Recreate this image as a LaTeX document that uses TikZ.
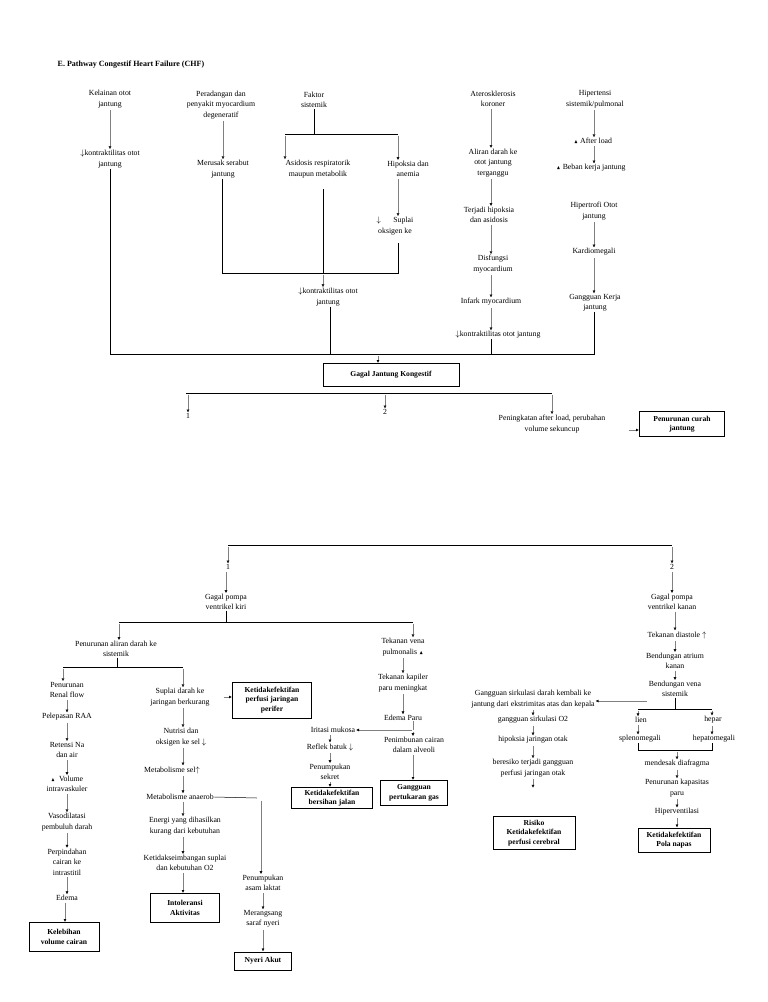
\documentclass[tikz,border=0pt]{standalone}
\usepackage{amssymb}
\usepackage{fontspec}
\setmainfont{Liberation Serif}
\usetikzlibrary{arrows.meta}
\newcommand{\up}{{\tiny$\blacktriangle$}}
\newcommand{\dn}{$\downarrow$}
\newcommand{\upa}{$\uparrow$}
\begin{document}
\begin{tikzpicture}[x=1pt,y=-1pt,
  every node/.style={font=\fontsize{7.8}{10.5}\selectfont, align=center, inner sep=0.5pt},
  bx/.style={draw, line width=0.8pt, font=\fontsize{7.6}{9.5}\selectfont\bfseries, inner sep=0pt},
  ln/.style={line width=0.8pt},
  ar/.style={draw=gray, line width=0.3pt, -{Triangle[length=2.6pt,width=2.6pt,color=black]}, shorten <=1.5pt, shorten >=0.5pt}]
\useasboundingbox[fill=white] (0,0) rectangle (768,1002);
\newcommand{\arr}[2]{\draw[ar] (#1.south) -- (#1.south |- #2.north);}
% ---------- top
\node[anchor=west, font=\fontsize{8}{9}\selectfont\bfseries] (tt) at (57,65) {E. Pathway Congestif Heart Failure (CHF)};
\node (k1) at (110,99) {Kelainan otot\\jantung};
\node (k2) at (110,159) {\dn kontraktilitas otot\\jantung};
\arr{k1}{k2}
\node (p1) at (221,105) {Peradangan dan\\penyakit myocardium\\degeneratif};
\node (p2) at (223,169) {Merusak serabut\\jantung};
\draw[ar] (p1.south -| p2.north) -- (p2.north);
\node (f1) at (314,100) {Faktor\\sistemik};
\node (f2) at (318,169) {Asidosis respiratorik\\maupun metabolik};
\node (f3) at (408,169) {Hipoksia dan\\anemia};
\node (f4) at (395,226) {\dn\hspace{1.6em}Suplai\\oksigen ke};
\node (f5) at (328,297) {\dn kontraktilitas otot\\jantung};
\coordinate (fa) at (285,134); \coordinate (fb) at (398,134);
\draw[ln] (f1.south) -- (f1.south |- fa);
\draw[ln] (fa) -- (fb);
\draw[ar] (fa) -- (fa |- f2.north);
\draw[ar] (fb) -- (fb |- f3.north);
\draw[ar] (f3.south -| fb) -- (fb |- f4.north);
\coordinate (ma) at (222,273); \coordinate (mb) at (398,273);
\draw[ln] (p2.south -| ma) -- (ma) -- (mb) -- (398,243);
\draw[ln] (323,189) -- (323,273);
\draw[ar] (323,273) -- (f5.north -| 323,0);
\node (a1) at (493,99) {Aterosklerosis\\koroner};
\node (a2) at (493,163) {Aliran darah ke\\otot jantung\\terganggu};
\node (a3) at (489,215) {Terjadi hipoksia\\dan asidosis};
\node (a4) at (493,264) {Disfungsi\\myocardium};
\node (a5) at (491,302) {Infark myocardium};
\node (a6) at (498,335) {\dn kontraktilitas otot jantung};
\draw[ar] (a1.south -| 491,0) -- (a2.north -| 491,0);
\draw[ar] (a2.south -| 491,0) -- (a3.north -| 491,0);
\draw[ar] (a3.south -| 491,0) -- (a4.north -| 491,0);
\draw[ar] (a4.south -| 491,0) -- (a5.north -| 491,0);
\draw[ar] (a5.south -| 491,0) -- (a6.north -| 491,0);
\node (h1) at (595,99) {Hipertensi\\sistemik/pulmonal};
\node (h2) at (593,141) {\up\ After load};
\node (h3) at (591,168) {\up\ Beban kerja jantung};
\node (h4) at (594,211) {Hipertrofi Otot\\jantung};
\node (h5) at (594,252) {Kardiomegali};
\node (h6) at (595,303) {Gangguan Kerja\\jantung};
\draw[ar] (h1.south -| 594,0) -- (h2.north -| 594,0);
\draw[ar] (h2.south -| 594,0) -- (h3.north -| 594,0);
\draw[ar] (h4.south -| 594,0) -- (h5.north -| 594,0);
\draw[ar] (h5.south -| 594,0) -- (h6.north -| 594,0);
\coordinate (ja) at (110,354); \coordinate (jb) at (594,354);
\draw[ln] (k2.south) -- (ja) -- (jb) -- (h6.south -| jb);
\draw[ln] (f5.south -| 330,0) -- (330,354);
\draw[ln] (a6.south -| 491,0) -- (491,354);
\node[bx, minimum width=136pt, minimum height=23pt] (g) at (391,375) {Gagal Jantung Kongestif};
\draw[ar] (378,354) -- (g.north -| 378,0);
\coordinate (ba) at (186,393); \coordinate (bc) at (552,393);
\draw[ln] (ba) -- (bc);
\node (n1) at (188,416) {1};
\node (n2) at (385,412) {2};
\node (n3) at (552,424) {Peningkatan after load, perubahan\\volume sekuncup};
\draw[ar] (188,393) -- (n1.north);
\draw[ar] (385,393) -- (n2.north);
\draw[ar] (bc) -- (n3.north);
\node[bx, minimum width=85pt, minimum height=25pt] (pc) at (682,424) {Penurunan curah\\jantung};
\draw[ar] (627,430) -- (pc.west |- 627,430);
% ---------- bottom
\coordinate (ca) at (228,545); \coordinate (cb) at (672,545);
\draw[ln] (ca) -- (cb);
\node (m1) at (228,567) {1};
\node (m2) at (672,567) {2};
\draw[ar] (ca) -- (m1.north); \draw[ar] (cb) -- (m2.north);
\node (L0) at (226,602) {Gagal pompa\\ventrikel kiri};
\draw[ar] (m1.south -| 226,0) -- (L0.north -| 226,0);
\draw[ln] (L0.south -| 226,0) -- (226,622);
\draw[ln] (119,622) -- (413,622);
\node (L1) at (116,649) {Penurunan aliran darah ke\\sistemik};
\node (P1) at (403,647) {Tekanan vena\\pulmonalis \up};
\draw[ar] (119,622) -- (L1.north -| 119,0);
\draw[ar] (413,622) -- (P1.north -| 413,0);
\draw[ln] (L1.south -| 117,0) -- (117,667);
\draw[ln] (63,667) -- (183,667);
\node (R1) at (67,690) {Penurunan\\Renal flow};
\node (R2) at (67,717) {Pelepasan RAA};
\node (R3) at (67,750) {Retensi Na\\dan air};
\node (R4) at (67,784) {\up\ \ Volume\\intravaskuler};
\node (R5) at (67,822) {Vasodilatasi\\pembuluh darah};
\node (R6) at (67,862) {Perpindahan\\cairan ke\\intrastitil};
\node (R7) at (67,898) {Edema};
\node[bx, minimum width=70pt, minimum height=29pt] (R8) at (64,937) {Kelebihan\\volume cairan};
\draw[ar] (63,667) -- (R1.north -| 63,0);
\arr{R1}{R2}\arr{R2}{R3}\arr{R3}{R4}\arr{R4}{R5}\arr{R5}{R6}\arr{R6}{R7}
\draw[ar] (R7.south -| 65,0) -- (R8.north -| 65,0);
\node (S1) at (180,697) {Suplai darah ke\\jaringan berkurang};
\node[bx, minimum width=79pt, minimum height=36pt] (SB) at (272,700) {Ketidakefektifan\\perfusi jaringan\\perifer};
\draw[ar] (222,697) -- (SB.west |- 222,697);
\draw[ar] (183,667) -- (S1.north -| 183,0);
\node (S2) at (181,737) {Nutrisi dan\\oksigen ke sel \dn};
\node (S3) at (172,770) {Metabolisme sel\upa};
\node (S4) at (180,797) {Metabolisme anaerob};
\node (S5) at (185,826) {Energi yang dihasilkan\\kurang dari kebutuhan};
\node (S6) at (185,863) {Ketidakseimbangan suplai\\dan kebutuhan O2};
\node[bx, minimum width=69pt, minimum height=29pt] (S7) at (185,908) {Intoleransi\\Aktivitas};
\draw[ar] (S1.south -| 183,0) -- (S2.north -| 183,0);
\draw[ar] (S2.south -| 183,0) -- (S3.north -| 183,0);
\draw[ar] (S3.south -| 183,0) -- (S4.north -| 183,0);
\draw[ar] (S4.south -| 183,0) -- (S5.north -| 183,0);
\draw[ar] (S5.south -| 183,0) -- (S6.north -| 183,0);
\draw[ar] (S6.south -| 183,0) -- (S7.north -| 183,0);
\node (N1) at (263,883) {Penumpukan\\asam laktat};
\node (N2) at (263,919) {Merangsang\\saraf nyeri};
\node[bx, minimum width=57pt, minimum height=18pt] (N3) at (263,961) {Nyeri Akut};
\draw[line width=0.5pt] (S4.east) -- (257,798);
\draw[ar] (261,799) -- (N1.north -| 261,0);
\arr{N1}{N2}\arr{N2}{N3}
\node (P2) at (403,683) {Tekanan kapiler\\paru meningkat};
\node (P3) at (403,718) {Edema Paru};
\node (P4) at (414,745) {Penimbunan cairan\\dalam alveoli};
\node[bx, minimum width=67pt, minimum height=25pt] (P5) at (414,793) {Gangguan\\pertukaran gas};
\draw[ar] (P1.south -| 403,0) -- (P2.north -| 403,0);
\draw[ar] (P2.south -| 403,0) -- (P3.north -| 403,0);
\node (I1) at (333,730) {Iritasi mukosa};
\node (I2) at (330,747) {Reflek batuk \dn};
\node (I3) at (330,772) {Penumpukan\\sekret};
\node[bx, minimum width=81pt, minimum height=21pt] (I4) at (332,798) {Ketidakefektifan\\bersihan jalan};
\coordinate (pj) at (413,730);
\draw[gray, line width=0.3pt] (P3.south -| pj) -- (pj);
\draw[ar] (pj) -- (I1.east);
\draw[ar] (pj) -- (P4.north -| pj);
\draw[ar] (P4.south -| pj) -- (P5.north -| pj);
\draw[ar] (I1.south -| 330,0) -- (I2.north);
\arr{I2}{I3}\arr{I3}{I4}
\node (K0) at (672,602) {Gagal pompa\\ventrikel kanan};
\draw[ar] (m2.south) -- (K0.north -| m2.south);
\node (K1) at (677,635) {Tekanan diastole \upa};
\node (K2) at (675,661) {Bendungan atrium\\kanan};
\node (K3) at (675,689) {Bendungan vena\\sistemik};
\draw[ar] (K0.south -| 675,0) -- (K1.north -| 675,0);
\draw[ar] (K1.south -| 675,0) -- (K2.north -| 675,0);
\draw[ar] (K2.south -| 675,0) -- (K3.north -| 675,0);
\coordinate (ka) at (638,709); \coordinate (kb) at (712,709);
\draw[ln] (K3.south -| 675,0) -- (675,709);
\draw[ln] (ka) -- (kb);
\node (K4) at (641,720) {lien};
\node (K5) at (713,720) {hepar};
\node (K6) at (640,739) {splenomegali};
\node (K7) at (714,739) {hepatomegali};
\draw[ar] (ka) -- (K4.north -| ka); \draw[ar] (kb) -- (K5.north -| kb);
\draw[ar] (K4.south -| ka) -- (K6.north -| ka); \draw[ar] (K5.south -| kb) -- (K7.north -| kb);
\draw[ln] (K6.south -| ka) -- (638,750) -- (712,750) -- (K7.south -| kb);
\node (K8) at (677,764) {mendesak diafragma};
\node (K9) at (677,788) {Penurunan kapasitas\\paru};
\node (K10) at (677,812) {Hiperventilasi};
\node[bx, minimum width=72pt, minimum height=24pt] (K11) at (674,840) {Ketidakefektifan\\Pola napas};
\draw[ar] (677,750) -- (K8.north);
\arr{K8}{K9}\arr{K9}{K10}
\draw[ar] (K10.south) -- (K11.north -| K10.south);
\node (G1) at (533,699) {Gangguan sirkulasi darah kembali ke\\jantung dari ekstrimitas atas dan kepala};
\draw[ar] (K3.west |- 0,701) -- (G1.east |- 0,701);
\node (G2) at (533,720) {gangguan sirkulasi O2};
\node (G3) at (533,740) {hipoksia jaringan otak};
\node (G4) at (533,768) {beresiko terjadi gangguan\\perfusi jaringan otak};
\node[bx, minimum width=82pt, minimum height=33pt] (G5) at (534,833) {Risiko\\Ketidakefektifan\\perfusi cerebral};
\arr{G1}{G2}\arr{G2}{G3}\arr{G3}{G4}
\draw[ar] (G4.south) -- (533,788);
\end{tikzpicture}
\end{document}
